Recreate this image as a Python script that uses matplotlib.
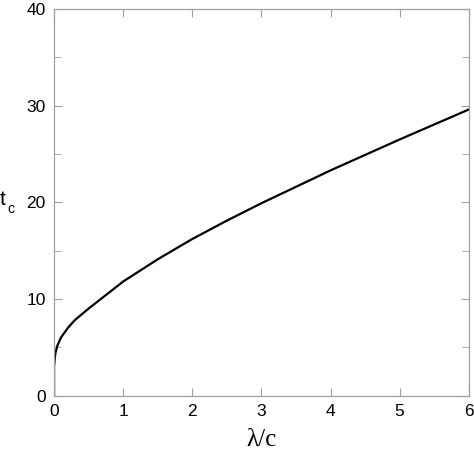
import matplotlib
matplotlib.use("Agg")
import matplotlib.pyplot as plt
from matplotlib.ticker import MultipleLocator

# critical time t_c against lambda/c
lam_c = [0, 0, 0.01, 0.02, 0.05, 0.1, 0.2, 0.3, 0.5, 0.75, 1.0, 1.5,
         2.0, 2.5, 3.0, 4.0, 5.0, 6.0]
t_c = [0, 3.0, 3.8, 4.4, 5.2, 6.0, 7.0, 7.8, 9.0, 10.4, 11.8, 14.1,
       16.2, 18.1, 19.9, 23.3, 26.5, 29.6]

xticks = [0, 1, 2, 3, 4, 5, 6]
yticks = [0, 10, 20, 30, 40]

plt.rcParams['font.family'] = ['Liberation Sans', 'DejaVu Sans']

fig = plt.figure(figsize=(4.74, 4.5), dpi=100)
ax = fig.add_axes([0.114, 0.121, 0.875, 0.859])

ax.plot(lam_c, t_c, color='black', lw=1.6)

ax.set_xlim(0, 6)
ax.set_ylim(0, 40)
ax.set_xticks(xticks)
ax.set_yticks(yticks)
ax.yaxis.set_minor_locator(MultipleLocator(5))

grey = '#a0a0a0'
for s in ax.spines.values():
    s.set_color(grey)
    s.set_linewidth(0.9)
ax.tick_params(which='both', direction='in', top=True, right=True,
               color=grey, labelsize=12.5, pad=6)
ax.tick_params(which='major', length=6)
ax.tick_params(which='minor', length=5)

# y label: "t" with a subscript "c", level with the 20 tick label
fig.text(0.0, 0.545, 't', fontsize=15, family='Liberation Sans')
fig.text(0.016, 0.527, 'c', fontsize=10, family='Liberation Sans')
ax.set_xlabel('λ/c', fontsize=18, family='Liberation Serif', labelpad=7)

fig.savefig('out.png', dpi=100)
